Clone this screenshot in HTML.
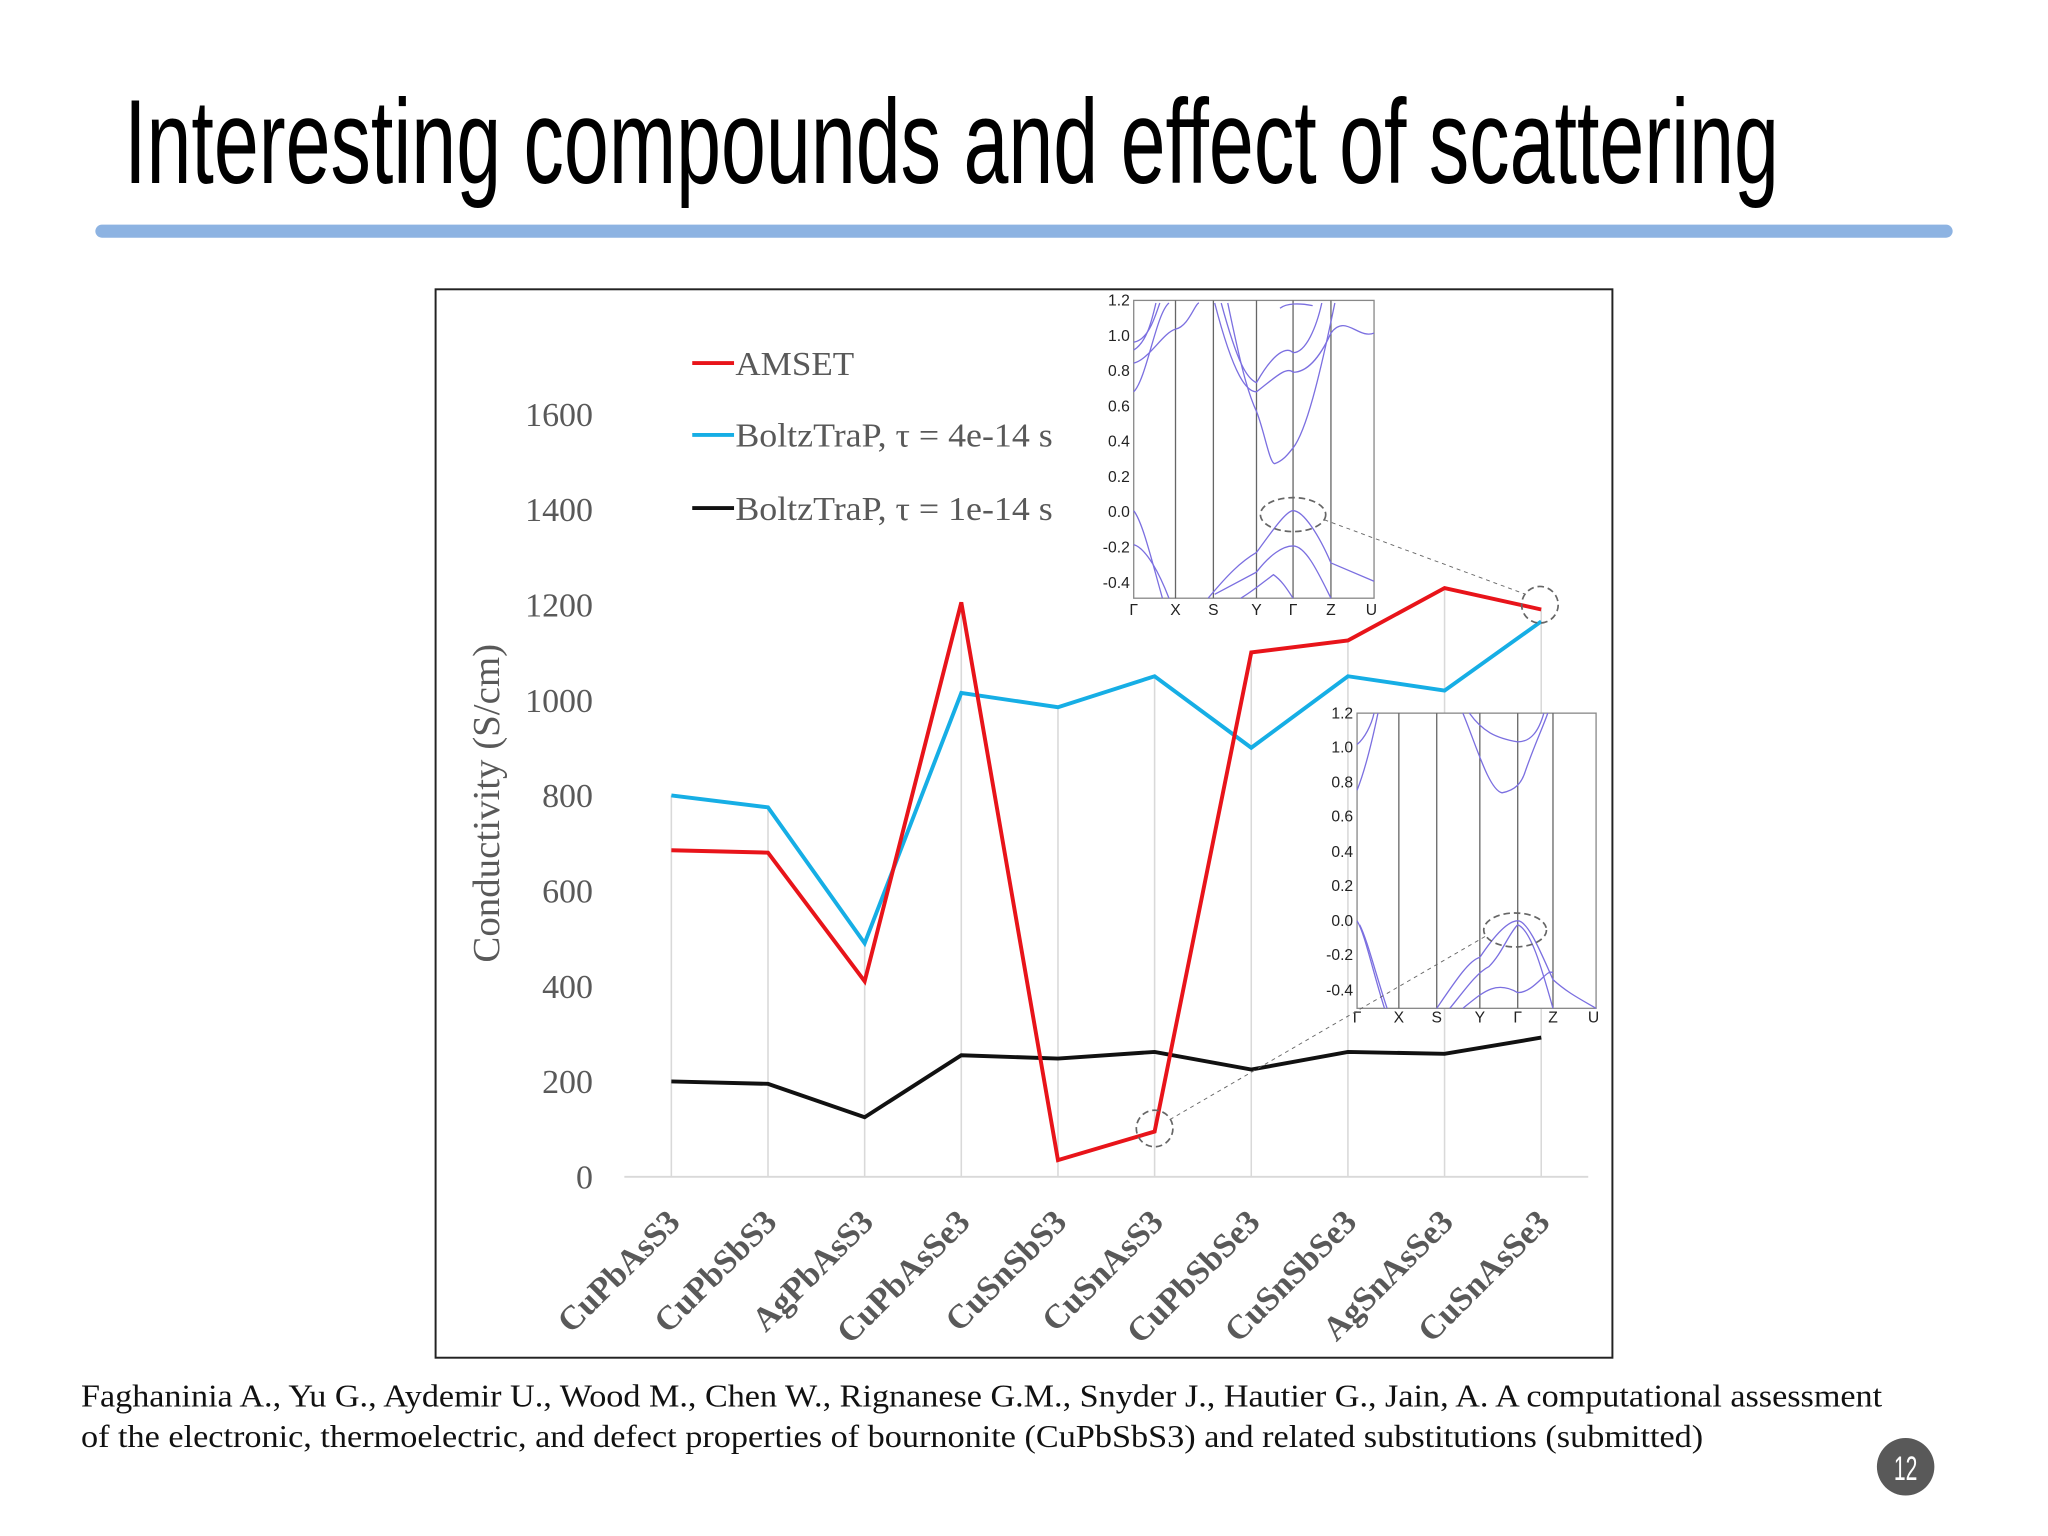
<!DOCTYPE html>
<html><head><meta charset="utf-8"><style>
html,body{margin:0;padding:0;background:#fff;}
svg{display:block;}
</style></head><body>
<svg id="page" width="2048" height="1536" viewBox="0 0 1568 1176" xmlns="http://www.w3.org/2000/svg">
<rect width="1568" height="1176" fill="#fff"/>
<text x="95" y="140" font-family="Liberation Sans Narrow, Liberation Sans, sans-serif" font-size="92" textLength="1267" lengthAdjust="spacingAndGlyphs" fill="#000">Interesting compounds and effect of scattering</text>
<rect x="73" y="172" width="1422" height="10" rx="5" fill="#8db3e2"/>
<rect x="333.5" y="221.5" width="901" height="818" fill="#fff" stroke="#222" stroke-width="1.5"/>
<g id="chart"></g>
<g id="legend">
 <g><line x1="530" y1="278" x2="562" y2="278" stroke="#e8141a" stroke-width="3"/><text x="563" y="287" font-family="Liberation Serif, serif" font-size="26" fill="#595959" textLength="91" lengthAdjust="spacingAndGlyphs">AMSET</text></g>
 <g><line x1="530" y1="333" x2="562" y2="333" stroke="#16aee5" stroke-width="3"/><text x="563" y="342" font-family="Liberation Serif, serif" font-size="26" fill="#595959" textLength="243" lengthAdjust="spacingAndGlyphs">BoltzTraP,  τ = 4e-14 s</text></g>
 <g><line x1="530" y1="389" x2="562" y2="389" stroke="#111" stroke-width="3"/><text x="563" y="398" font-family="Liberation Serif, serif" font-size="26" fill="#595959" textLength="243" lengthAdjust="spacingAndGlyphs">BoltzTraP,  τ = 1e-14 s</text></g>
</g>
<text transform="translate(382,615) rotate(-90)" text-anchor="middle" font-family="Liberation Serif, serif" font-size="29" fill="#595959" textLength="244" lengthAdjust="spacingAndGlyphs">Conductivity (S/cm)</text>

<!-- Inset 1 -->
<g font-family="Liberation Sans, sans-serif" font-size="12" fill="#222">
 <rect x="868" y="230" width="184" height="228" fill="#fff" stroke="#888" stroke-width="1"/>
 <g stroke="#666" stroke-width="1"><line x1="900" y1="230" x2="900" y2="458"/><line x1="929" y1="230" x2="929" y2="458"/><line x1="962" y1="230" x2="962" y2="458"/><line x1="990" y1="230" x2="990" y2="458"/><line x1="1019" y1="230" x2="1019" y2="458"/></g>
 <g text-anchor="end"><text x="865" y="234">1.2</text><text x="865" y="261">1.0</text><text x="865" y="288">0.8</text><text x="865" y="315">0.6</text><text x="865" y="342">0.4</text><text x="865" y="369">0.2</text><text x="865" y="396">0.0</text><text x="865" y="423">-0.2</text><text x="865" y="450">-0.4</text></g>
 <g text-anchor="middle"><text x="868" y="471">Γ</text><text x="900" y="471">X</text><text x="929" y="471">S</text><text x="962" y="471">Y</text><text x="990" y="471">Γ</text><text x="1019" y="471">Z</text><text x="1050" y="471">U</text></g>
 <g fill="none" stroke="#7b6fe0" stroke-width="1">
  <path d="M868 391 C875 400,882 430,890 458"/>
  <path d="M868 417 C878 420,888 440,895 458"/>
  <path d="M925 458 C940 440,950 430,962 423 C975 405,985 391,990 391 C998 391,1010 410,1019 431 L1052 445"/>
  <path d="M930 455 L962 438 C972 425,982 418,990 418 C1000 418,1010 440,1019 458"/>
  <path d="M950 458 C960 452,968 445,975 440 C982 445,986 452,990 458"/>
  <path d="M940 232 C950 280,955 300,962 315 C968 330,972 355,976 355 C984 352,988 345,990 343 C1000 330,1010 290,1022 232"/>
  <path d="M930 232 C945 290,955 300,962 300 C975 290,985 280,990 285 C1000 285,1010 275,1019 255 C1030 240,1040 260,1052 255"/>
  <path d="M935 232 C948 280,955 290,962 293 C975 270,985 265,990 270 C1000 270,1008 250,1012 232"/>
  <path d="M868 300 C878 290,885 240,895 232"/><path d="M868 262 C880 260,885 240,888 232"/>
  <path d="M868 278 C880 275,890 255,900 252 C910 250,915 232,918 232"/>
  <path d="M868 268 C878 262,882 245,885 232"/>
  <path d="M980 236 C985 232,995 232,1005 234"/>
 </g>
</g>
<!-- Inset 2 -->
<g font-family="Liberation Sans, sans-serif" font-size="12" fill="#222">
 <rect x="1039" y="546" width="183" height="226" fill="#fff" stroke="#888" stroke-width="1"/>
 <g stroke="#666" stroke-width="1"><line x1="1071" y1="546" x2="1071" y2="772"/><line x1="1100" y1="546" x2="1100" y2="772"/><line x1="1133" y1="546" x2="1133" y2="772"/><line x1="1162" y1="546" x2="1162" y2="772"/><line x1="1189" y1="546" x2="1189" y2="772"/></g>
 <g text-anchor="end"><text x="1036" y="550">1.2</text><text x="1036" y="576">1.0</text><text x="1036" y="603">0.8</text><text x="1036" y="629">0.6</text><text x="1036" y="656">0.4</text><text x="1036" y="682">0.2</text><text x="1036" y="709">0.0</text><text x="1036" y="735">-0.2</text><text x="1036" y="762">-0.4</text></g>
 <g text-anchor="middle"><text x="1039" y="783">Γ</text><text x="1071" y="783">X</text><text x="1100" y="783">S</text><text x="1133" y="783">Y</text><text x="1162" y="783">Γ</text><text x="1189" y="783">Z</text><text x="1220" y="783">U</text></g>
 <g fill="none" stroke="#7b6fe0" stroke-width="1">
  <path d="M1039 705 C1045 715,1050 740,1060 772"/><path d="M1041 708 C1047 720,1053 745,1062 772"/>
  <path d="M1100 772 C1115 750,1125 735,1133 733 C1145 715,1155 705,1162 705 C1170 705,1180 730,1189 750 C1200 760,1210 765,1222 772"/>
  <path d="M1110 772 C1120 760,1130 745,1140 740 C1150 730,1155 715,1162 708 C1172 712,1180 740,1189 772"/>
  <path d="M1120 772 C1135 760,1145 750,1162 760 C1175 760,1185 740,1189 745"/>
  <path d="M1120 546 C1130 570,1140 605,1150 607 C1160 605,1165 600,1168 590 C1175 570,1182 555,1185 546"/>
  <path d="M1125 546 C1135 560,1145 565,1162 568 C1172 568,1178 560,1182 546"/>
  <path d="M1039 570 C1045 565,1050 555,1052 546"/><path d="M1039 605 C1045 590,1050 570,1055 546"/>
 </g>
</g>
<g fill="none" stroke="#666" stroke-width="1.3" stroke-dasharray="5,3">
 <ellipse cx="990" cy="394" rx="25" ry="13"/>
 <circle cx="1179" cy="463" r="14"/>
 <line x1="1014" y1="398" x2="1168" y2="455" stroke-width="0.7" stroke-dasharray="3,3"/>
 <ellipse cx="1160" cy="712" rx="24" ry="13"/>
 <circle cx="884" cy="864" r="14"/>
 <line x1="1137" y1="717" x2="896" y2="857" stroke-width="0.7" stroke-dasharray="3,3"/>
</g>

<g font-family="Liberation Serif, serif" font-size="24" fill="#111">
 <text x="62" y="1077" textLength="1379" lengthAdjust="spacingAndGlyphs">Faghaninia A., Yu G., Aydemir U., Wood M., Chen W., Rignanese G.M., Snyder J., Hautier G., Jain, A. A computational assessment</text>
 <text x="62" y="1108" textLength="1242" lengthAdjust="spacingAndGlyphs">of the electronic, thermoelectric, and defect properties of bournonite (CuPbSbS3) and related substitutions (submitted)</text>
</g>
<g>
 <circle cx="1459" cy="1123" r="22" fill="#595959"/>
 <text x="1459" y="1133" text-anchor="middle" font-family="Liberation Sans Narrow, Liberation Sans, sans-serif" font-size="26" fill="#fff" textLength="18" lengthAdjust="spacingAndGlyphs">12</text>
</g>
</svg>
<script>
const categories = ["CuPbAsS3","CuPbSbS3","AgPbAsS3","CuPbAsSe3","CuSnSbS3","CuSnAsS3","CuPbSbSe3","CuSnSbSe3","AgSnAsSe3","CuSnAsSe3"];
const amsetValues = [685,680,410,1205,35,95,1100,1125,1235,1190];
const boltz4Values = [800,775,490,1015,985,1050,900,1050,1020,1165];
const boltz1Values = [200,195,125,255,248,262,225,262,258,292];
const yTicks = [0,200,400,600,800,1000,1200,1400,1600];

const NS = "http://www.w3.org/2000/svg";
const chart = document.getElementById("chart");
function xPos(i){ return 514 + i * (1180 - 514) / (categories.length - 1); }
function yPos(v){ return 901 - v * (901 - 317) / 1600; }
function mk(tag, attrs){ const e = document.createElementNS(NS, tag); for (const k in attrs) e.setAttribute(k, attrs[k]); return e; }

categories.forEach((c, i) => {
  const top = Math.max(amsetValues[i], boltz4Values[i], boltz1Values[i]);
  const g = mk("line", {x1: xPos(i), x2: xPos(i), y1: yPos(0), y2: yPos(top), stroke: "#d9d9d9", "stroke-width": 1.2});
  
  
  chart.appendChild(g);
});
const axis = mk("line", {x1: 478, x2: 1216, y1: yPos(0), y2: yPos(0), stroke: "#d9d9d9", "stroke-width": 1.5});


chart.appendChild(axis);

yTicks.forEach(t => {
  const tx = mk("text", {x: 454, y: yPos(t) + 9, "text-anchor": "end", "font-family": "Liberation Serif, serif", "font-size": 26, fill: "#595959"});
  tx.textContent = t;
  
  
  chart.appendChild(tx);
});

categories.forEach((c, i) => {
  const tx = mk("text", {transform: "translate(" + (xPos(i) + 8) + "," + (yPos(0) + 36) + ") rotate(-45)", "text-anchor": "end", "font-family": "Liberation Serif, serif", "font-weight": "bold", "font-size": 26, fill: "#595959"});
  tx.textContent = c;
  
  
  chart.appendChild(tx);
});

function series(vals, color, name){
  const pts = vals.map((v, i) => xPos(i) + "," + yPos(v)).join(" ");
  const p = mk("polyline", {points: pts, fill: "none", stroke: color, "stroke-width": 3, "stroke-linejoin": "miter"});
  
  
  chart.appendChild(p);
}
series(boltz1Values, "#111", "series-boltztrap-1e-14");
series(boltz4Values, "#16aee5", "series-boltztrap-4e-14");
series(amsetValues, "#e8141a", "series-amset");
</script>
</body></html>
